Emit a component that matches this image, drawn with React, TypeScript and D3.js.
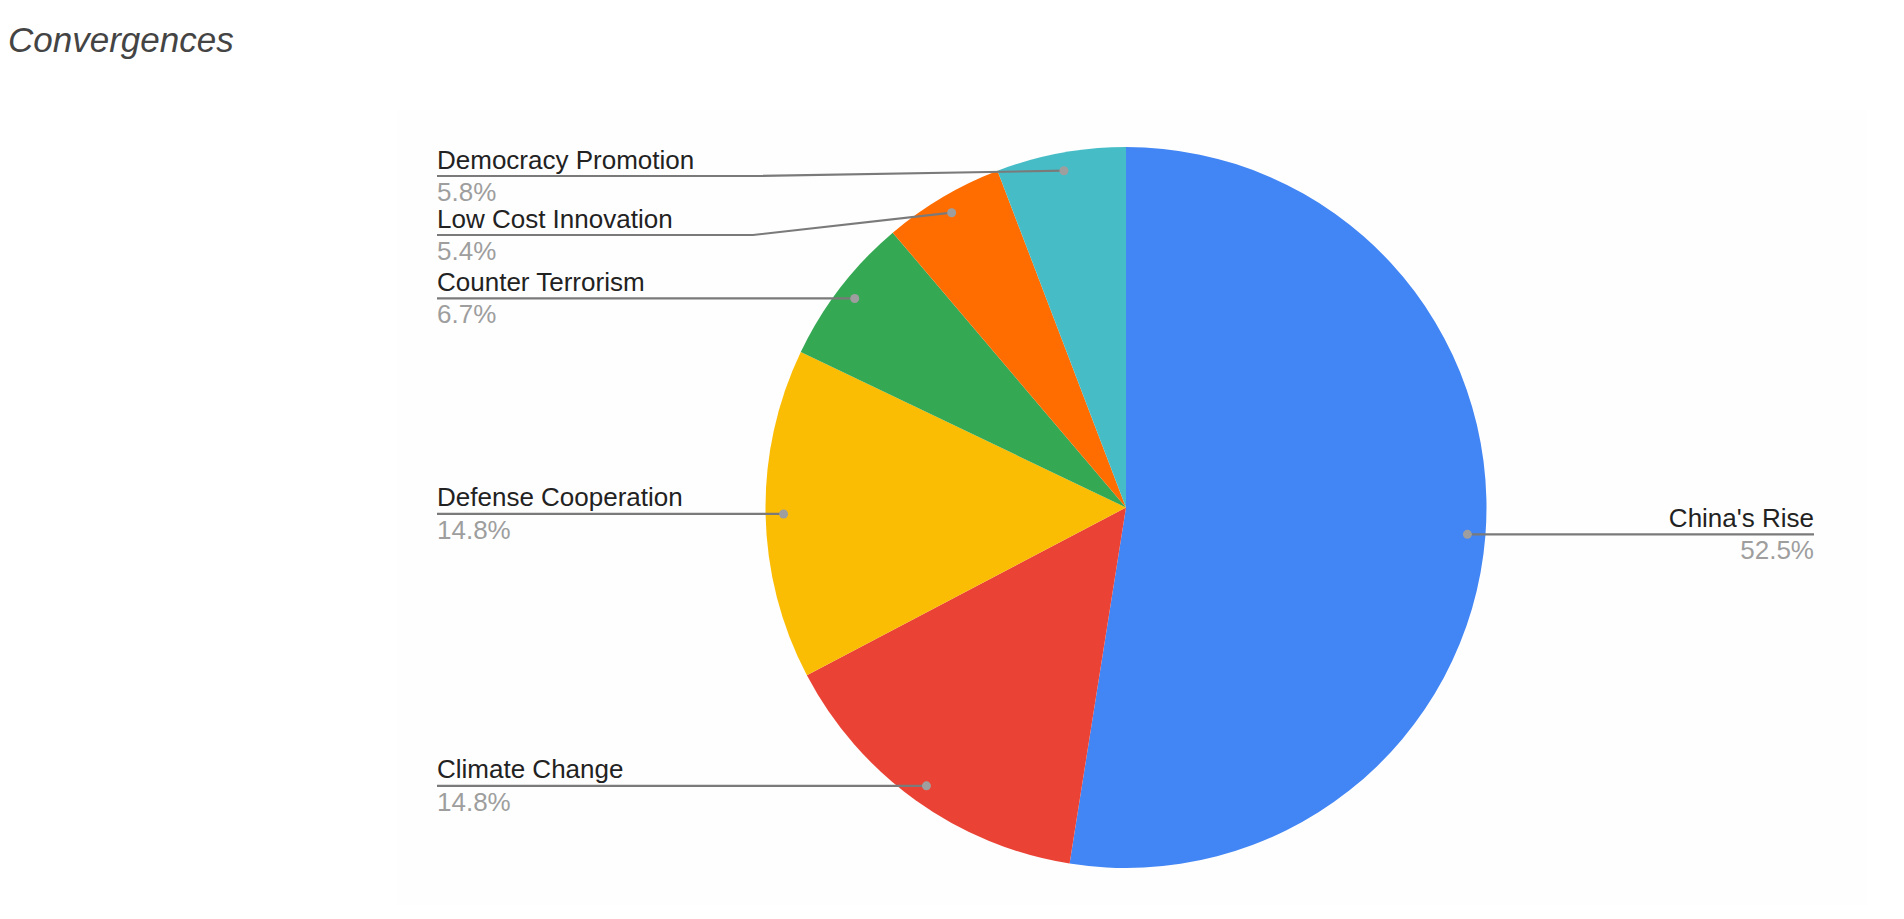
import React from 'react';
import * as d3 from 'd3';

const categories = [
  "China's Rise",
  'Climate Change',
  'Defense Cooperation',
  'Counter Terrorism',
  'Low Cost Innovation',
  'Democracy Promotion',
];
const shares = [52.5, 14.8, 14.8, 6.7, 5.4, 5.8];
const sliceColors = ['#4285f4', '#ea4335', '#fbbc04', '#34a853', '#ff6d01', '#46bdc6'];

const W = 1904;
const H = 919;
const cx = 1126;
const cy = 507.5;
const radius = 360.5;
const FONT = '"Liberation Sans", Arial, Helvetica, sans-serif';

const App = () => {
  const pie = d3.pie<number>().sort(null).value(d => d);
  const arcs = pie(shares);
  const arc = d3.arc<d3.PieArcDatum<number>>().innerRadius(0).outerRadius(radius);
  const dotArc = d3.arc<d3.PieArcDatum<number>>().innerRadius(radius * 0.95).outerRadius(radius * 0.95);
  const total = d3.sum(shares);

  // anchor dots + label layout
  const items = arcs.map((a, i) => {
    const [dx, dy] = dotArc.centroid(a);
    const mid = (a.startAngle + a.endAngle) / 2;
    return {
      name: categories[i],
      pct: ((a.value / total) * 100).toFixed(1) + '%',
      x: cx + dx,
      y: cy + dy,
      right: mid < Math.PI,
      lineY: cy + dy,
    };
  });

  // push left labels apart (top to bottom)
  const left = items.filter(d => !d.right).sort((a, b) => a.y - b.y);
  const minGap = 59;
  let prev = cy - radius + 29 - minGap;
  left.forEach(d => {
    d.lineY = Math.max(d.y, prev + minGap);
    prev = d.lineY;
  });

  const leftTextX = 437;
  const elbowX = 753;
  const rightTextX = 1814;

  return (
    <svg width={W} height={H} style={{ position: 'absolute', left: 0, top: 0, background: '#fff' }}>
      <rect x={397} y={110} width={1470} height={795} fill="#fefefe" />
      <text x={8} y={52} fontFamily={FONT} fontStyle="italic" fontSize={35} fill="#444">
        Convergences
      </text>
      <g>
        {arcs.map((a, i) => (
          <path key={i} d={arc(a) as string} transform={`translate(${cx},${cy})`} fill={sliceColors[i]} />
        ))}
      </g>
      <g>
        {items.map((d, i) => {
          const pts = d.right
            ? [[d.x, d.y], [rightTextX, d.lineY]]
            : [[leftTextX, d.lineY], [elbowX, d.lineY], [d.x, d.y]];
          const tx = d.right ? rightTextX : leftTextX;
          const anchor = d.right ? 'end' : 'start';
          return (
            <g key={i}>
              <polyline
                points={pts.map(p => p.join(',')).join(' ')}
                fill="none"
                stroke="#7a7a7a"
                strokeWidth={2.2}
              />
              <circle cx={d.x} cy={d.y} r={4.5} fill="#9e9e9e" />
              <text x={tx} y={d.lineY - 7.5} textAnchor={anchor} fontFamily={FONT} fontSize={26} fill="#222">
                {d.name}
              </text>
              <text x={tx} y={d.lineY + 25} textAnchor={anchor} fontFamily={FONT} fontSize={26} fill="#9e9e9e">
                {d.pct}
              </text>
            </g>
          );
        })}
      </g>
    </svg>
  );
};

export default App;
